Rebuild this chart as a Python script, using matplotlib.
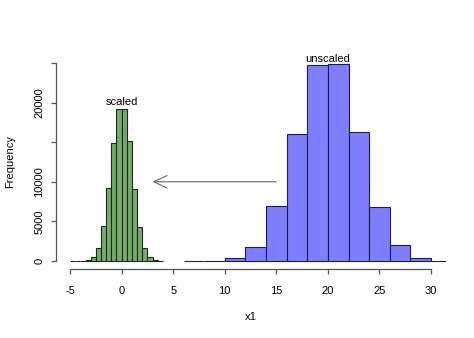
import numpy as np
import matplotlib
matplotlib.use("Agg")
import matplotlib.pyplot as plt

plt.rcParams['font.family'] = ['Liberation Sans', 'DejaVu Sans']

# scaled x1: bins of width 0.5 from -5 to 4
scaled_edges = np.arange(-5, 4.01, 0.5)
scaled_counts = [0, 3, 20, 120, 480, 1650, 4420, 9250, 14850, 19200,
                 19150, 15150, 9050, 4350, 1630, 500, 140, 25]

# unscaled x1: bins of width 2 from 6 to 32
unscaled_edges = np.arange(6, 32.01, 2)
unscaled_counts = [2, 30, 340, 1800, 6970, 15980, 24720, 24930,
                   16230, 6770, 1980, 380, 25]

xticks = [-5, 0, 5, 10, 15, 20, 25, 30]
yticks = [0, 5000, 10000, 15000, 20000, 25000]
ytick_labels = ['0', '5000', '10000', '', '20000', '']

fs = 8.0

fig = plt.figure(figsize=(4.74, 3.38), dpi=100)
ax = fig.add_axes([55.6 / 474, 69 / 338, 389.9 / 474, 216 / 338])

ax.bar(unscaled_edges[:-1], unscaled_counts, width=np.diff(unscaled_edges),
       align='edge', color='#7f7ffd', edgecolor='#1c1c55', linewidth=0.8)
ax.bar(scaled_edges[:-1], scaled_counts, width=np.diff(scaled_edges),
       align='edge', color='#78aa6c', edgecolor='#1a2a18', linewidth=0.8)

ax.annotate('', xy=(3, 10000), xytext=(15, 10000),
            arrowprops=dict(arrowstyle='->,head_length=0.95,head_width=0.45',
                            color='#666666', lw=0.8, shrinkA=0, shrinkB=0))

ax.text(0, 20050, 'scaled', ha='center', va='center', fontsize=fs)
ax.text(20, 25450, 'unscaled', ha='center', va='center', fontsize=fs)

ax.set_xlim(-6.4, 31.4)
ax.set_ylim(-1010, 26260)

for side in ['top', 'right']:
    ax.spines[side].set_visible(False)
ax.spines['left'].set_bounds(0, 25000)
ax.spines['bottom'].set_bounds(-5, 30)
for side in ['left', 'bottom']:
    ax.spines[side].set_color('#555555')
    ax.spines[side].set_linewidth(0.9)

ax.set_xticks(xticks)
ax.set_xticklabels([str(t) for t in xticks])
ax.set_yticks(yticks)
ax.set_yticklabels(ytick_labels, rotation=90, va='center')
ax.tick_params(axis='both', direction='out', length=3.6, width=0.9,
               color='#555555', labelsize=fs)
ax.tick_params(axis='x', pad=8.5)
ax.tick_params(axis='y', pad=4.5)

ax.set_xlabel('x1', fontsize=fs)
ax.xaxis.set_label_coords(0.5, -0.22)
ax.xaxis.label.set_va('center')
ax.set_ylabel('Frequency', fontsize=fs)
ax.yaxis.set_label_coords(-0.117, 0.5)
ax.yaxis.label.set_va('center')

fig.savefig('out.png', dpi=100)
